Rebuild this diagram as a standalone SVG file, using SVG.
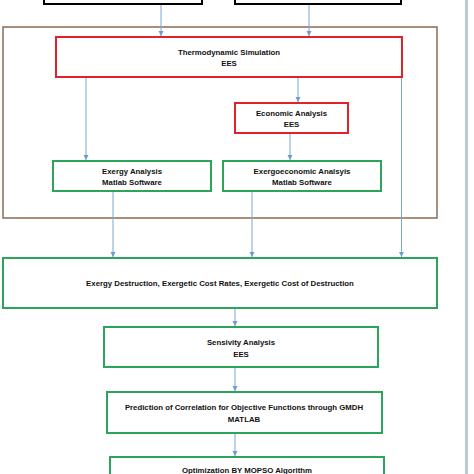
<svg xmlns="http://www.w3.org/2000/svg" width="474" height="474" viewBox="0 0 474 474">
<defs>
<marker id="ah" markerWidth="6" markerHeight="6" refX="5" refY="3" orient="auto" markerUnits="userSpaceOnUse">
<path d="M0,0.5 L5,3 L0,5.5 Z" fill="#6f9ccb"/>
</marker>
<style>
.blk{fill:#fff;stroke:#000;stroke-width:2}
.red{fill:#fff;stroke:#e0232b;stroke-width:2}
.grn{fill:#fff;stroke:#2ca55a;stroke-width:2}
.con{fill:none;stroke:#7aa6d2;stroke-width:1}
text{font-family:"Liberation Sans",Arial,sans-serif;font-weight:bold;font-size:7.8px;fill:#111;text-anchor:middle}
</style>
</defs>
<rect width="474" height="474" fill="#fff"/>
<rect x="465" y="0" width="3" height="474" fill="#b9cadb"/>
<rect id="container" x="3" y="27" width="434" height="191" fill="none" stroke="#8b6b55" stroke-width="1.5"/>
<g id="connectors">
<line class="con" x1="161" y1="5" x2="161" y2="36" marker-end="url(#ah)"/>
<line class="con" x1="309" y1="5" x2="309" y2="36" marker-end="url(#ah)"/>
<line class="con" x1="298" y1="78" x2="298" y2="102" marker-end="url(#ah)"/>
<line class="con" x1="86" y1="78" x2="86" y2="160" marker-end="url(#ah)"/>
<line class="con" x1="290" y1="134" x2="290" y2="160" marker-end="url(#ah)"/>
<line class="con" x1="401.5" y1="78" x2="401.5" y2="257" marker-end="url(#ah)"/>
<line class="con" x1="113" y1="192" x2="113" y2="257" marker-end="url(#ah)"/>
<line class="con" x1="252" y1="192" x2="252" y2="257" marker-end="url(#ah)"/>
<line class="con" x1="235" y1="309" x2="235" y2="326" marker-end="url(#ah)"/>
<line class="con" x1="235" y1="368" x2="235" y2="391" marker-end="url(#ah)"/>
<line class="con" x1="235" y1="434" x2="235" y2="456" marker-end="url(#ah)"/>
</g>
<g id="top-left"><rect class="blk" x="44" y="-10" width="158" height="14"/></g>
<g id="top-right"><rect class="blk" x="235" y="-10" width="166" height="14"/></g>
<g id="thermo"><rect class="red" x="56" y="37" width="346" height="40"/>
<text x="229" y="55">Thermodynamic Simulation</text><text x="229" y="66">EES</text></g>
<g id="economic"><rect class="red" x="235" y="103" width="113" height="30"/>
<text x="291.5" y="116">Economic Analysis</text><text x="291.5" y="127">EES</text></g>
<g id="exergy"><rect class="grn" x="53" y="161" width="158" height="30"/>
<text x="132" y="174">Exergy Analysis</text><text x="132" y="185">Matlab Software</text></g>
<g id="exergoeconomic"><rect class="grn" x="223" y="161" width="158" height="30"/>
<text x="302" y="174">Exergoeconomic Analsyis</text><text x="302" y="185">Matlab Software</text></g>
<g id="destruction"><rect class="grn" x="3" y="258" width="434" height="50"/>
<text x="220" y="286">Exergy Destruction, Exergetic Cost Rates, Exergetic Cost of Destruction</text></g>
<g id="sensivity"><rect class="grn" x="104" y="327" width="274" height="40"/>
<text x="241" y="344.5">Sensivity Analysis</text><text x="241" y="356.5">EES</text></g>
<g id="prediction"><rect class="grn" x="107" y="392" width="275" height="41"/>
<text x="244" y="410">Prediction of Correlation for Objective Functions through GMDH</text><text x="244" y="422">MATLAB</text></g>
<g id="optimization"><rect class="grn" x="110" y="457" width="274" height="30"/>
<text x="247" y="473">Optimization BY MOPSO Algorithm</text></g>
</svg>
